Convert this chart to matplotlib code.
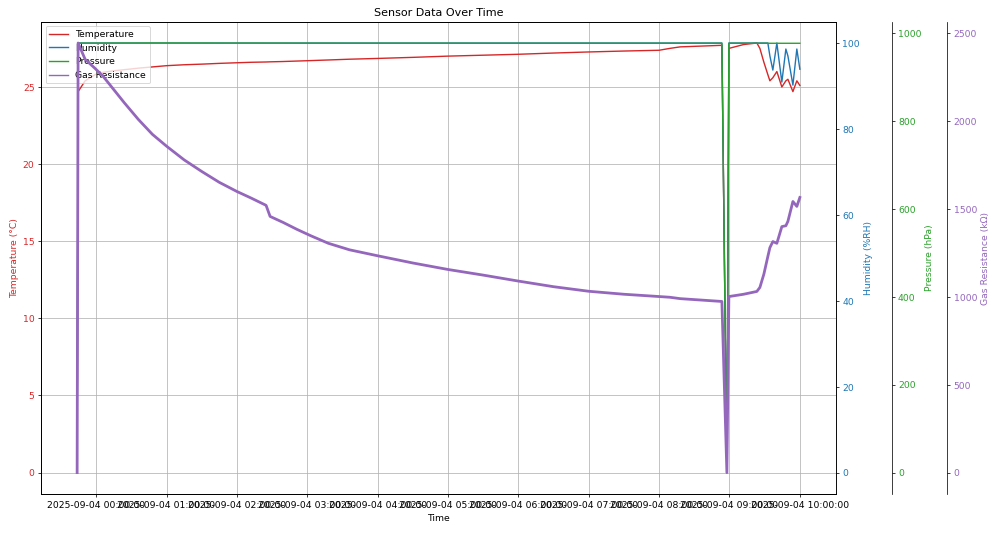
import pandas as pd
import matplotlib
matplotlib.use("Agg")
import matplotlib.pyplot as plt
import matplotlib.dates as mdates

# --- readings ---
times = [
    "2025-09-03 23:43:48", "2025-09-03 23:44:38", "2025-09-03 23:50:38", "2025-09-03 23:59:10",
    "2025-09-04 00:06:00", "2025-09-04 00:15:00", "2025-09-04 00:24:00", "2025-09-04 00:36:00",
    "2025-09-04 00:48:00", "2025-09-04 01:00:00", "2025-09-04 01:15:00", "2025-09-04 01:30:00",
    "2025-09-04 01:45:00", "2025-09-04 02:00:00", "2025-09-04 02:12:00", "2025-09-04 02:24:54",
    "2025-09-04 02:28:19", "2025-09-04 02:39:22", "2025-09-04 02:51:00", "2025-09-04 03:03:00",
    "2025-09-04 03:18:00", "2025-09-04 03:36:00", "2025-09-04 04:00:00", "2025-09-04 04:30:00",
    "2025-09-04 05:00:00", "2025-09-04 05:30:00", "2025-09-04 06:00:00", "2025-09-04 06:30:00",
    "2025-09-04 07:00:00", "2025-09-04 07:30:00", "2025-09-04 08:00:00", "2025-09-04 08:09:00",
    "2025-09-04 08:18:00", "2025-09-04 08:53:31", "2025-09-04 08:57:47", "2025-09-04 08:59:28",
    "2025-09-04 09:12:00", "2025-09-04 09:23:20", "2025-09-04 09:25:55", "2025-09-04 09:29:20",
    "2025-09-04 09:32:42", "2025-09-04 09:34:26", "2025-09-04 09:36:58", "2025-09-04 09:40:23",
    "2025-09-04 09:44:38", "2025-09-04 09:48:04", "2025-09-04 09:49:48", "2025-09-04 09:54:04",
    "2025-09-04 09:57:25", "2025-09-04 10:00:00",
]
temperature = [
    0, 24.7, 25.4, 25.8, 25.95, 26.05, 26.12, 26.22, 26.3, 26.38,
    26.44, 26.48, 26.53, 26.57, 26.6, 26.62, 26.63, 26.65, 26.68, 26.71,
    26.75, 26.8, 26.85, 26.92, 27.0, 27.06, 27.12, 27.2, 27.27, 27.33,
    27.38, 27.5, 27.6, 27.7, 0, 27.5, 27.75, 27.85, 27.5, 26.6,
    25.8, 25.4, 25.6, 26.0, 25.0, 25.4, 25.5, 24.7, 25.4, 25.1,
]
humidity = [
    0, 100, 100, 100, 100, 100, 100, 100, 100, 100,
    100, 100, 100, 100, 100, 100, 100, 100, 100, 100,
    100, 100, 100, 100, 100, 100, 100, 100, 100, 100,
    100, 100, 100, 100, 0, 100, 100, 100, 100, 100,
    100, 97, 93.7, 100, 90.9, 98.6, 97, 90.2, 98.6, 93.9,
]
pressure = [
    0, 976.4, 976.5, 976.5, 976.6, 976.6, 976.7, 976.7, 976.8, 976.8,
    976.7, 976.7, 976.6, 976.6, 976.6, 976.5, 976.5, 976.5, 976.4, 976.4,
    976.4, 976.3, 976.3, 976.3, 976.3, 976.2, 976.2, 976.2, 976.2, 976.2,
    976.2, 976.2, 976.2, 976.2, 0, 976.2, 976.2, 976.2, 976.2, 976.2,
    976.2, 976.2, 976.2, 976.2, 976.2, 976.2, 976.2, 976.2, 976.2, 976.2,
]
gas_resistance = [
    0, 2445, 2352, 2300, 2255, 2180, 2105, 2010, 1925, 1858,
    1780, 1714, 1652, 1600, 1563, 1521, 1458, 1424, 1385, 1348,
    1305, 1268, 1234, 1193, 1156, 1124, 1090, 1058, 1032, 1015,
    1002, 998, 990, 974, 0, 1002, 1015, 1031, 1054, 1130,
    1230, 1280, 1315, 1305, 1400, 1405, 1430, 1543, 1515, 1566,
]

t = pd.to_datetime(times)

fig, ax1 = plt.subplots(figsize=(15, 8), dpi=100 * 2 / 3)
fig.subplots_adjust(left=0.041, right=0.836, bottom=0.073, top=0.959)

l1, = ax1.plot(t, temperature, color="tab:red", label="Temperature")
ax1.set_xlabel("Time")
ax1.set_ylabel("Temperature (°C)", color="tab:red")
ax1.tick_params(axis="y", labelcolor="tab:red")
ax1.grid(True)

ax2 = ax1.twinx()
l2, = ax2.plot(t, humidity, color="tab:blue", label="Humidity")
ax2.set_ylabel("Humidity (%RH)", color="tab:blue")
ax2.tick_params(axis="y", labelcolor="tab:blue")

ax3 = ax1.twinx()
ax3.spines["right"].set_position(("outward", 60))
l3, = ax3.plot(t, pressure, color="tab:green", label="Pressure")
ax3.set_ylabel("Pressure (hPa)", color="tab:green")
ax3.tick_params(axis="y", labelcolor="tab:green")

ax4 = ax1.twinx()
ax4.spines["right"].set_position(("outward", 120))
# thick stroke stands in for the sensor noise band
l4, = ax4.plot(t, gas_resistance, color="tab:purple", linewidth=3, label="Gas Resistance")
ax4.set_ylabel("Gas Resistance (kΩ)", color="tab:purple")
ax4.tick_params(axis="y", labelcolor="tab:purple")

ax1.xaxis.set_major_locator(mdates.HourLocator())
ax1.xaxis.set_major_formatter(mdates.DateFormatter("%Y-%m-%d %H:%M:%S"))

lines = [l1, l2, l3, l4]
leg = ax1.legend(lines, [l.get_label() for l in lines], loc="upper left")
for h in leg.get_lines():
    h.set_linewidth(1.5)

ax1.set_title("Sensor Data Over Time")
fig.savefig("out.png")
